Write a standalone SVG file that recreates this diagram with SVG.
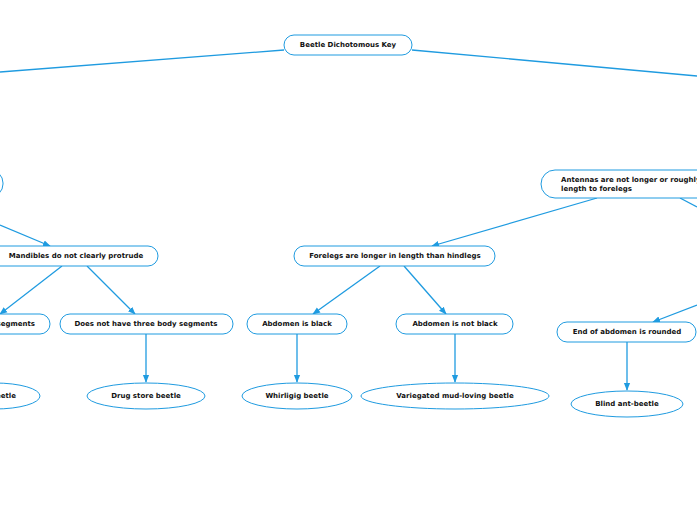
<svg xmlns="http://www.w3.org/2000/svg" width="697" height="520" viewBox="0 0 697 520">
<defs><marker id="a" viewBox="0 0 10 10" refX="9" refY="5" markerWidth="6" markerHeight="6" orient="auto"><path d="M0,1 L10,5 L0,9 z" fill="#1f9be0"/></marker></defs>
<style>
.n{fill:#fff;stroke:#1f9be0;stroke-width:1}
.t{font-family:"DejaVu Sans",Verdana,sans-serif;font-size:7px;font-weight:bold;fill:#111;text-anchor:middle;dominant-baseline:central}
.c path{fill:none;stroke:#1f9be0;stroke-width:1.3}
.m{marker-end:url(#a)}
</style>
<rect width="697" height="520" fill="#fff"/>
<g class="c">
<path d="M284,50 L0,72"/>
<path d="M412,50 L697,76"/>
<path class="m" d="M0,225 L50,246"/>
<path class="m" d="M62,266 L0,314"/>
<path class="m" d="M87,266 L135,314"/>
<path class="m" d="M146,334 L146,382"/>
<path class="m" d="M597,198 L432,246"/>
<path d="M680,198 L697,207"/>
<path class="m" d="M380,266 L313,314"/>
<path class="m" d="M404,266 L446,314"/>
<path class="m" d="M297,334 L297,382"/>
<path class="m" d="M455,334 L455,382"/>
<path class="m" d="M697,305 L653,322"/>
<path class="m" d="M627,342 L627,390"/>
</g>
<g id="root"><rect class="n" x="284" y="35" width="128" height="20" rx="10"/><text class="t" x="348" y="45">Beetle Dichotomous Key</text></g>
<g id="leftTop"><rect class="n" x="-100" y="170" width="103" height="27" rx="13"/></g>
<g id="mandibles"><rect class="n" x="-10" y="246" width="168" height="20" rx="10"/><text class="t" x="76" y="256">Mandibles do not clearly protrude</text></g>
<g id="three"><rect class="n" x="-60" y="314" width="110" height="20" rx="10"/><text class="t" x="35" y="324" style="text-anchor:end">Has three body segments</text></g>
<g id="notthree"><rect class="n" x="60" y="314" width="173" height="20" rx="10"/><text class="t" x="146" y="324">Does not have three body segments</text></g>
<g id="leftBeetle"><ellipse class="n" cx="-5" cy="396" rx="45" ry="13"/><text class="t" x="16" y="396" style="text-anchor:end">beetle</text></g>
<g id="drug"><ellipse class="n" cx="146" cy="396" rx="59" ry="13"/><text class="t" x="146" y="396">Drug store beetle</text></g>
<g id="forelegs"><rect class="n" x="294" y="246" width="201" height="20" rx="10"/><text class="t" x="395" y="256">Forelegs are longer in length than hindlegs</text></g>
<g id="black"><rect class="n" x="247" y="314" width="100" height="20" rx="10"/><text class="t" x="297" y="324">Abdomen is black</text></g>
<g id="notblack"><rect class="n" x="396" y="314" width="117" height="20" rx="10"/><text class="t" x="455" y="324">Abdomen is not black</text></g>
<g id="whirligig"><ellipse class="n" cx="297" cy="396" rx="55" ry="13"/><text class="t" x="297" y="396">Whirligig beetle</text></g>
<g id="variegated"><ellipse class="n" cx="455" cy="396" rx="94" ry="13"/><text class="t" x="455" y="396">Variegated mud-loving beetle</text></g>
<g id="antennas"><rect class="n" x="541" y="170" width="170" height="28" rx="14"/><text class="t" x="561" y="180" style="text-anchor:start">Antennas are not longer or roughly equal in</text><text class="t" x="561" y="189" style="text-anchor:start">length to forelegs</text></g>
<g id="rounded"><rect class="n" x="557" y="322" width="139" height="20" rx="10"/><text class="t" x="627" y="332">End of abdomen is rounded</text></g>
<g id="blind"><ellipse class="n" cx="627" cy="404" rx="56" ry="13"/><text class="t" x="627" y="404">Blind ant-beetle</text></g>
</svg>
